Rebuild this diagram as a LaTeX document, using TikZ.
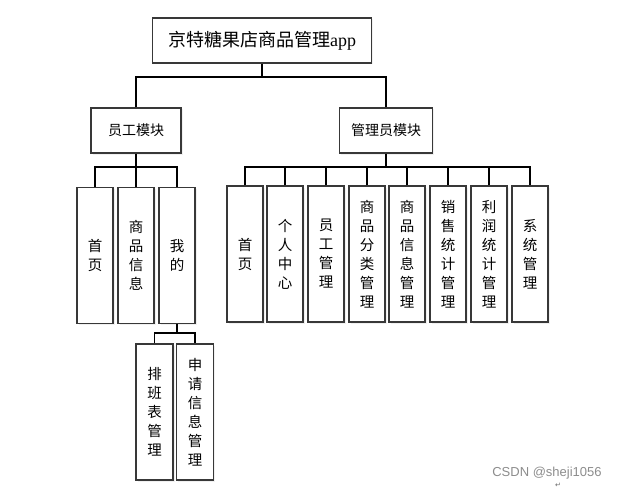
\documentclass[tikz,border=0pt]{standalone}
\usepackage{fontspec}
\setmainfont{Liberation Serif}
\newfontfamily\cjk{Noto Sans CJK SC}
\newfontfamily\wm{Liberation Sans}
\newfontfamily\dv{DejaVu Sans}
\usetikzlibrary{shadows}
\begin{document}
\begin{tikzpicture}[x=1pt,y=-1pt,
  boxbase/.style={draw=black!78, line width=1.4pt, fill=white, inner sep=0pt,
    drop shadow={opacity=0.12, shadow xshift=1.5pt, shadow yshift=-1.5pt}},
  rootbox/.style={boxbase, minimum width=219pt, minimum height=45pt, font=\fontsize{18}{20}\selectfont},
  modbox/.style={boxbase, minimum height=45pt, font=\cjk\fontsize{14}{16}\selectfont},
  vbox/.style={boxbase, minimum width=36pt, minimum height=136pt, align=center,
    font=\cjk\fontsize{14.5}{19}\selectfont},
  conn/.style={draw=black, line width=1.5pt}]
\useasboundingbox (0,0) rectangle (623,492);

\node[rootbox] (root) at (262,40.5) {{\cjk 京特糖果店商品管理}app};
\node[modbox, minimum width=90pt] (emp) at (136,130.5) {员工模块};
\node[modbox, minimum width=93pt] (adm) at (386,130.5) {管理员模块};

\coordinate (j0) at (262,77);
\draw[conn] (root.south) -- (j0);
\draw[conn] (emp.north) |- (j0) -| (adm.north);

% employee children
\node[vbox] (e1) at (95,255.5) {首\\页};
\node[vbox] (e2) at (136,255.5) {商\\品\\信\\息};
\node[vbox] (e3) at (177,255.5) {我\\的};
\coordinate (je) at (136,167);
\draw[conn] (emp.south) -- (je);
\draw[conn] (e1.north) |- (je) -| (e3.north);
\draw[conn] (je) -- (e2.north);

% admin children
\node[vbox] (a1) at (245,254) {首\\页};
\node[vbox] (a2) at (285,254) {个\\人\\中\\心};
\node[vbox] (a3) at (326,254) {员\\工\\管\\理};
\node[vbox] (a4) at (367,254) {商\\品\\分\\类\\管\\理};
\node[vbox] (a5) at (407,254) {商\\品\\信\\息\\管\\理};
\node[vbox] (a6) at (448,254) {销\\售\\统\\计\\管\\理};
\node[vbox] (a7) at (489,254) {利\\润\\统\\计\\管\\理};
\node[vbox] (a8) at (530,254) {系\\统\\管\\理};
\coordinate (ja) at (386,167);
\draw[conn] (adm.south) -- (ja);
\draw[conn] (a1.north) |- (ja) -| (a8.north);
\foreach \n in {a2,a3,a4,a5,a6,a7} \draw[conn] (\n.north) -- (\n.north |- ja);

% sub children of 我的
\node[vbox, minimum width=37pt] (s1) at (154.5,412) {排\\班\\表\\管\\理};
\node[vbox, minimum width=37pt] (s2) at (195,412) {申\\请\\信\\息\\管\\理};
\coordinate (js) at (177,333);
\draw[conn] (e3.south) -- (js);
\draw[conn] (s1.north) |- (js) -| (s2.north);

% watermark
\node[text=black!45, font=\wm\fontsize{13}{15}\selectfont, inner sep=0pt] (wm) at (547,473) {CSDN @sheji1056};
\node[text=black!60, font=\dv\fontsize{7}{8}\selectfont, inner sep=0pt] (ret) at (558,485) {↵};
\end{tikzpicture}
\end{document}
